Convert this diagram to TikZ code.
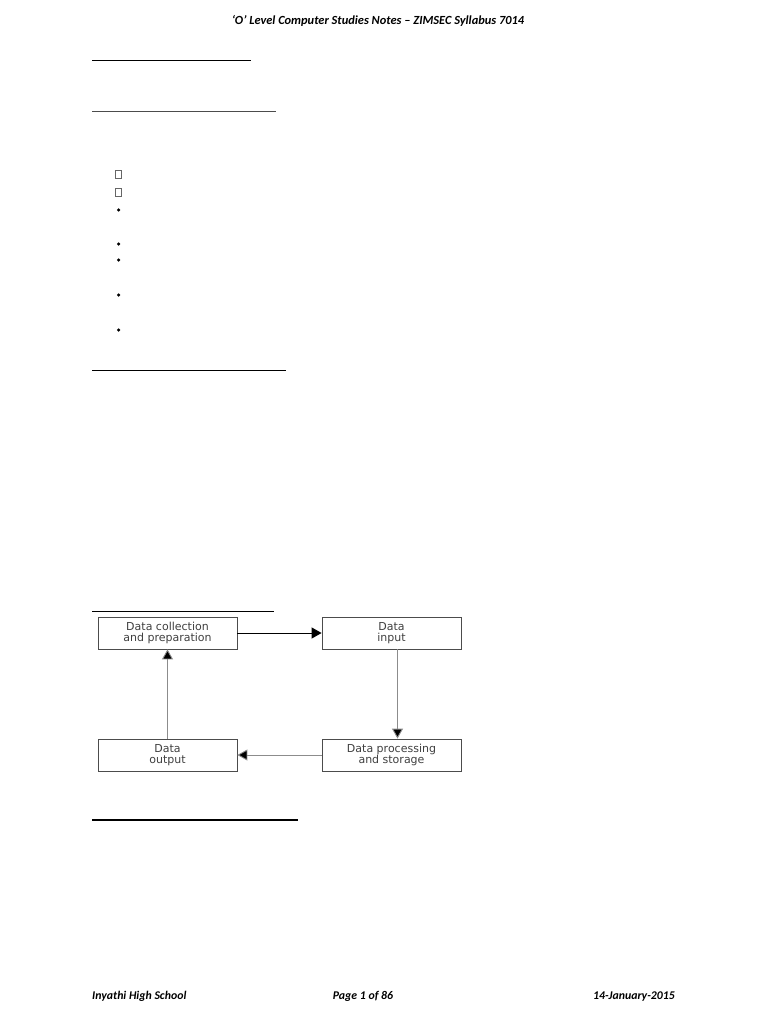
\documentclass[tikz,border=0pt]{standalone}
\usepackage{fontspec}
\usepackage{tikz}
\usetikzlibrary{positioning, arrows, arrows.meta, shapes}
\newfontfamily\boxfont{DejaVu Sans}
\newfontfamily\notesfont{Carlito}
\tikzstyle{stage} = [rectangle, minimum width=139pt, minimum height=32pt, inner sep=0pt, align=center, draw=black!70, line width=0.8pt, text=black!75, font=\boxfont\fontsize{11}{11.5}\selectfont]
\tikzstyle{arrow} = [draw=black!45, line width=0.9pt, -{Triangle[length=10pt,width=11pt,fill=black]}]
\tikzstyle{darrow} = [arrow, draw=black, line width=1pt]
\tikzstyle{heading} = [line width=1.5pt]
\tikzstyle{dotmark} = [circle, fill=black, inner sep=0pt, minimum size=3.5pt]
\tikzstyle{tickbox} = [rectangle, draw=black!60, line width=1pt, minimum width=6pt, minimum height=8pt, inner sep=0pt]
\tikzstyle{pagetext} = [inner sep=0pt, font=\notesfont\bfseries\itshape\fontsize{11.8}{13}\selectfont]

\begin{document}
\begin{tikzpicture}[x=1pt, y=-1pt, node distance=122pt]
    \useasboundingbox (0,0) rectangle (768,1024);
    \fill[white] (0,0) rectangle (768,1024);

    % header and footer
    \node (head) [pagetext, anchor=base, font=\notesfont\bfseries\itshape\fontsize{12.4}{14}\selectfont] at (378,25) {‘O’ Level Computer Studies Notes – ZIMSEC Syllabus 7014};
    \node (school) [pagetext, anchor=base west] at (92,999) {Inyathi High School};
    \node (pageno) [pagetext, anchor=base] at (363,999) {Page 1 of 86};
    \node (date) [pagetext, anchor=base east] at (675,999) {14-January-2015};

    % underlined headings
    \draw [heading] (92,60.5) -- (251,60.5);
    \draw [heading, black!70] (92,111.5) -- (275.5,111.5);
    \draw [heading] (92,370.5) -- (285.5,370.5);
    \draw [heading] (92,611.5) -- (274,611.5);
    \draw [heading] (92,820) -- (297.5,820);

    % list marks
    \node (box1) [tickbox] at (118.5,175) {};
    \node (box2) [tickbox] at (118.5,193) {};
    \foreach \y [count=\i] in {210,244,260,295,330}
        \node (dot\i) [dotmark] at (118.7,\y) {};

    % data processing cycle
    \node (collect) [stage] at (167.5,633) {Data collection\\and preparation};
    \node (input) [stage, right of=collect, xshift=102pt] {Data\\input};
    \node (process) [stage, below of=input] {Data processing\\and storage};
    \node (output) [stage, below of=collect] {Data\\output};

    \draw [darrow] (collect) -- (input);
    \draw [arrow] ([xshift=6pt]input.south) -- ([xshift=6pt]input.south |- process.north);
    \draw [arrow] (process) -- (output);
    \draw [arrow] (output) -- (collect);

\end{tikzpicture}
\end{document}
